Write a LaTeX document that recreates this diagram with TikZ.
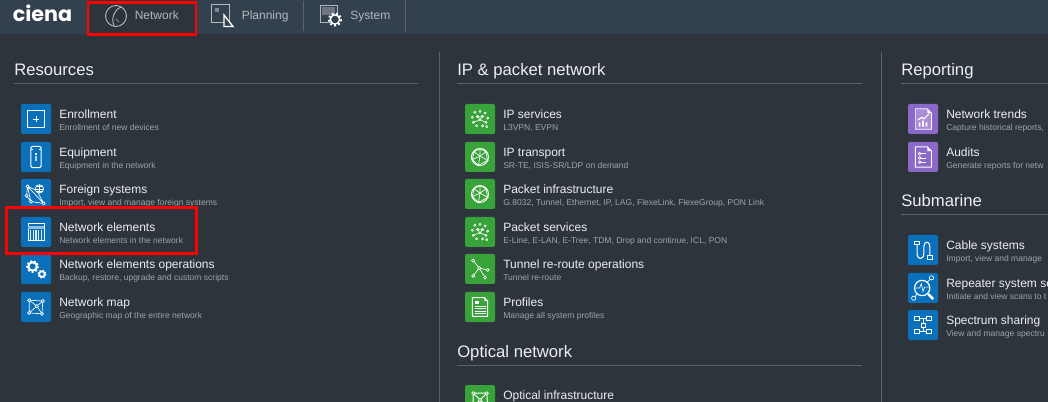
\documentclass[tikz,border=0pt]{standalone}
\usepackage{fontspec}
\setmainfont{Liberation Sans}
\newfontfamily\logofont{Poppins}
\definecolor{bodybg}{HTML}{2D343C}
\definecolor{barbg}{HTML}{33414F}
\definecolor{rulec}{HTML}{5E6266}
\definecolor{bluec}{HTML}{0A70BA}
\definecolor{greenc}{HTML}{37A338}
\definecolor{purplec}{HTML}{8A69C8}
\definecolor{titlec}{HTML}{EDEFF0}
\definecolor{descc}{HTML}{A0A4A8}
\definecolor{tabc}{HTML}{B4B8BC}
\tikzset{
  x=0.75pt,y=-0.75pt,
  hdr/.style={anchor=base west,inner sep=0,text=titlec,font=\fontsize{12.5pt}{14pt}\selectfont},
  ttl/.style={anchor=base west,inner sep=0,text=titlec,font=\fontsize{9pt}{11pt}\selectfont},
  dsc/.style={anchor=base west,inner sep=0,text=descc,font=\fontsize{6.4pt}{8pt}\selectfont},
  tabt/.style={anchor=base west,inner sep=0,text=tabc,font=\fontsize{9pt}{11pt}\selectfont},
  rl/.style={draw=rulec,line width=0.75pt},
  ico/.style={draw=white,line width=0.5pt,fill=none},
  tabi/.style={draw=tabc,line width=0.7pt,fill=none},
}
% item: name, box-left x, centre y, colour, title, description, icon macro
\newcommand{\menuitem}[7]{%
  \node[minimum width=22.5pt,minimum height=22.5pt,inner sep=0,rounded corners=1.5pt,fill=#4] (#1) at (#2+15,#3) {};
  \node[ttl] (#1t) at (#2+38,#3-0.5) {#5};
  \node[dsc] (#1d) at (#2+38,#3+11.5) {#6};
  \begin{scope}[shift={(#2+15,#3)},scale=0.85]#7\end{scope}%
}
\newcommand{\meshA}{%
  \draw[ico] (-8,-8) -- (8,-7) -- (7,8) -- (-8,7) -- cycle (-8,-8) -- (1,-1) -- (7,8) (8,-7) -- (1,-1) -- (-8,7);
  \foreach \p in {(-8,-8),(8,-7),(7,8),(-8,7),(1,-1)} \draw[ico,fill=bluec] \p circle (1.8);
}
\newcommand{\dotsIcon}[1]{%
  \foreach \p in {(-6,-8),(0,-9),(6,-7),(-9,-2),(-3,-3),(3,-3),(9,-1),(-8,4),(0,1),(7,4),(-4,8),(3,8),(8,9)}
    \draw[ico,fill=#1,line width=0.45pt] \p circle (1.3);
  \draw[ico,line width=0.45pt] (-3,-3) -- (3,-3) -- (0,1) -- cycle (0,1) -- (-8,4) (0,1) -- (7,4);
}
\newcommand{\globeIcon}{%
  \draw[ico,line width=0.7pt] (0,0) circle (10);
  \draw[ico] (-7,-6) -- (0,-1) -- (7,-6) (-9,3) -- (0,-1) -- (9,4) (0,-10) -- (0,-1) -- (-2,10) (-7,-6) -- (-9,3) -- (-2,10) -- (9,4) -- (7,-6) -- (0,-10) -- cycle;
  \foreach \p in {(0,-1),(-9,3),(9,4),(-2,10),(7,-6),(-7,-6)} \fill[white] \p circle (1.1);
}
\begin{document}
\begin{tikzpicture}
\path[use as bounding box] (0,0) rectangle (1048,402);
\clip (0,0) rectangle (1048,402);
\fill[bodybg] (0,0) rectangle (1048,402);
\fill[barbg] (0,0) rectangle (1048,34);
\fill[bodybg] (90,0) rectangle (195,34);
\draw[rl] (303,1) -- (303,31);
\draw[rl] (405,1) -- (405,31);
\node[anchor=base west,inner sep=0,text=white,font=\logofont\fontsize{15.5pt}{18pt}\bfseries\selectfont] (logo) at (12.5,22) {ciena};

% tabs
\begin{scope}[shift={(116,16)}]
  \draw[tabi] (0,0) circle (10.5);
  \draw[tabi] (5,-9) .. controls (-2,-6) and (-5,2) .. (-2,10);
  \draw[tabi,line width=0.5pt] (0,3) -- (3,6);
\end{scope}
\node[tabt] (tabn) at (134.5,20) {Network};
\draw[tabi] (211.5,4.5) rectangle (229,22);
\fill[tabc!60!barbg] (215,8) rectangle (219,12);
\draw[white,line width=1pt,fill=barbg] (224,15) -- (233,26.5) -- (224,26.5) -- cycle;
\node[tabt] (tabp) at (241.5,20) {Planning};
\draw[tabi] (320,5) rectangle (337,22);
\fill[tabc!45!barbg] (322,7) rectangle (335,15);
\draw[white,line width=1pt,fill=barbg] (335,19.5) circle (4.6);
\draw[white,line width=1.8pt,dash pattern=on 1.4pt off 1.6pt] (335,19.5) circle (5.8);
\node[tabt] (tabs) at (350,20) {System};
\node[draw=red,line width=2.2pt,minimum width=81pt,minimum height=24.6pt,inner sep=0] (redtab) at (142,18.5) {};

% separators
\draw[rl] (439,52) -- (439,402);
\draw[rl] (881.5,52) -- (881.5,402);

% headers
\node[hdr] (h1) at (14,76) {Resources};
\draw[rl] (14,84) -- (418,84);
\node[hdr] (h2) at (457,76) {IP \& packet network};
\draw[rl] (457,84) -- (862,84);
\node[hdr] (h3) at (457,357) {Optical network};
\draw[rl] (457,365) -- (862,365);
\node[hdr] (h4) at (901,76) {Reporting};
\draw[rl] (901,84) -- (1048,84);
\node[hdr] (h5) at (901,207) {Submarine};
\draw[rl] (901,215) -- (1048,215);

% Resources
\menuitem{enr}{21}{119}{bluec}{Enrollment}{Enrollment of new devices}{%
  \draw[ico,line width=0.7pt] (-10.2,-10.2) rectangle (10.2,10.2);
  \draw[ico,line width=0.7pt] (-3.5,0) -- (3.5,0) (0,-3.5) -- (0,3.5);}
\menuitem{equ}{21}{157}{bluec}{Equipment}{Equipment in the network}{%
  \draw[ico,rounded corners=1pt,line width=0.7pt] (-6,-12.5) rectangle (6,12.5);
  \fill[white] (-1.5,-5) rectangle (1.5,-2);
  \fill[white!70!bluec] (-1.5,-1) rectangle (1.5,5);
  \draw[ico] (-6,-9) -- (-3,-9) (3,-9) -- (6,-9);}
\menuitem{frn}{21}{194}{bluec}{Foreign systems}{Import, view and manage foreign systems}{%
  \draw[ico] (-10,-9) -- (-6,9) -- (9,11) -- (1,-4) -- cycle (-10,-9) -- (9,11) (-11,2) -- (-10,-9) (-11,2) -- (-6,9);
  \foreach \p in {(-10,-9),(-11,2),(-6,9),(9,11)} \draw[ico,fill=bluec] \p circle (1.8);
  \draw[ico,fill=bluec] (4,-6) circle (5);
  \draw[ico,line width=0.4pt] (-1,-6) -- (9,-6) (4,-11) -- (4,-1) (0,-9) -- (8,-9) (0,-3) -- (8,-3);}
\menuitem{nel}{21}{232}{bluec}{Network elements}{Network elements in the network}{%
  \draw[ico,line width=0.7pt] (-9.4,-10.2) rectangle (9.4,10.2);
  \fill[white!55!bluec] (-9.4,-7) rectangle (9.4,-4);
  \foreach \q in {-6.5,-3.2,0,3.2,6.5} \fill[white!85!bluec] (\q-0.8,-2.5) rectangle (\q+0.8,10);}
\menuitem{nop}{21}{269}{bluec}{Network elements operations}{Backup, restore, upgrade and custom scripts}{%
  \draw[white,line width=1.5pt] (-4,-3) circle (5);
  \draw[white,line width=1.3pt,dash pattern=on 1.4pt off 1.5pt] (-4,-3) circle (6.6);
  \draw[white,line width=1.2pt] (7,6) circle (3.2);
  \draw[white,line width=1pt,dash pattern=on 1.1pt off 1.2pt] (7,6) circle (4.6);}
\menuitem{nmp}{21}{307}{bluec}{Network map}{Geographic map of the entire network}{\meshA}

% IP & packet network
\menuitem{ips}{465}{119}{greenc}{IP services}{L3VPN, EVPN}{\dotsIcon{greenc}}
\menuitem{ipt}{465}{157}{greenc}{IP transport}{SR-TE, ISIS-SR/LDP on demand}{\globeIcon}
\menuitem{pin}{465}{194}{greenc}{Packet infrastructure}{G.8032, Tunnel, Ethernet, IP, LAG, FlexeLink, FlexeGroup, PON Link}{\globeIcon}
\menuitem{psv}{465}{232}{greenc}{Packet services}{E-Line, E-LAN, E-Tree, TDM, Drop and continue, ICL, PON}{\dotsIcon{greenc}}
\menuitem{tun}{465}{269}{greenc}{Tunnel re-route operations}{Tunnel re-route}{%
  \draw[ico] (-8,-10) -- (-1,-1) -- (9,1) (-1,-1) -- (-8,8) (-1,-1) -- (6,10);
  \foreach \p in {(-8,-10),(-1,-1),(9,1),(-8,8),(6,10)} \draw[ico,fill=greenc] \p circle (1.8);}
\menuitem{prf}{465}{307}{greenc}{Profiles}{Manage all system profiles}{%
  \draw[ico,line width=0.8pt] (-9,-11) -- (5,-11) -- (9,-7) -- (9,11) -- (-9,11) -- cycle;
  \fill[white] (5,-11) -- (9,-7) -- (5,-7) -- cycle;
  \fill[white] (-6,-7) rectangle (-1,-4);
  \foreach \q in {-1,2,5,8} \draw[white,line width=0.6pt] (-6,\q) -- (7,\q);}
\menuitem{opt}{465}{400}{greenc}{Optical infrastructure}{}{%
  \draw[ico,line width=0.7pt] (-8,-8) -- (8,-8) -- (9,8) -- (-8,8) -- cycle (-8,-8) -- (9,8) (8,-8) -- (-8,8);
  \foreach \p in {(-8,-8),(8,-8),(9,8),(-8,8),(0,0)} \draw[ico,fill=greenc] \p circle (1.8);}

% Reporting
\menuitem{trd}{908}{119}{purplec}{Network trends}{Capture historical reports,}{%
  \draw[ico,fill=white!25!purplec] (-9,-12) -- (5,-12) -- (10,-7) -- (10,12) -- (-9,12) -- cycle;
  \fill[white] (5,-12) -- (10,-7) -- (5,-7) -- cycle;
  \fill[white] (-5,4) rectangle (-3,9) (-1,2) rectangle (1,9) (3,4) rectangle (5,9);
  \draw[white,line width=0.9pt] (-6,1) -- (-1,-2) -- (1,0) -- (7,-6);}
\menuitem{aud}{908}{157}{purplec}{Audits}{Generate reports for netw}{%
  \draw[ico,line width=0.7pt] (-9,-12) -- (5,-12) -- (10,-7) -- (10,12) -- (-9,12) -- cycle;
  \fill[white] (5,-12) -- (10,-7) -- (5,-7) -- cycle;
  \foreach \q in {-4,1,6} {\draw[ico] (-4,\q) circle (1.6); \draw[ico] (-2,\q) -- (4,\q);}}

% Submarine
\menuitem{cab}{908}{250}{bluec}{Cable systems}{Import, view and manage}{%
  \draw[ico,line width=0.8pt] (-7,-8) -- (-7,4) .. controls (-7,12) and (1,12) .. (1,4) -- (1,-4) .. controls (1,-11) and (8,-11) .. (8,-4) -- (8,6);
  \draw[ico,line width=0.8pt,fill=bluec] (-10,-10) rectangle (-4,-6);
  \draw[ico,line width=0.8pt,fill=bluec] (5,6) rectangle (11,11);}
\menuitem{rep}{908}{288}{bluec}{Repeater system sc}{Initiate and view scans to t}{%
  \draw[ico,line width=0.9pt] (-1,0) circle (9);
  \draw[white,line width=1.8pt] (6,7) -- (12,13);
  \draw[ico] (-10,0) -- (-4,0) -- (-2,-5) -- (0,4) -- (2,-1) -- (8,-1);
  \draw[ico] (5,-7) -- (8,-10) (-7,7) -- (-10,11);
  \draw[ico,fill=bluec] (10,-12) circle (2.5);
  \draw[ico,fill=bluec] (-11,12) circle (2.5);}
\menuitem{spc}{908}{325}{bluec}{Spectrum sharing}{View and manage spectru}{%
  \foreach \p in {(-7,-8),(7,-8),(-7,8),(7,8)} \draw[ico,line width=0.8pt] \p ++(-3,-2.5) rectangle ++(6,5);
  \draw[ico] (-4,-8) -- (4,-8) (-4,8) -- (4,8) (0,-8) -- (0,8);
  \draw[ico,fill=bluec] (-2.5,-2.5) rectangle (2.5,2.5);}

% red highlight around Network elements
\node[draw=red,line width=2.2pt,minimum width=143pt,minimum height=34.5pt,inner sep=0] (redel) at (101.5,230.5) {};
\end{tikzpicture}
\end{document}
